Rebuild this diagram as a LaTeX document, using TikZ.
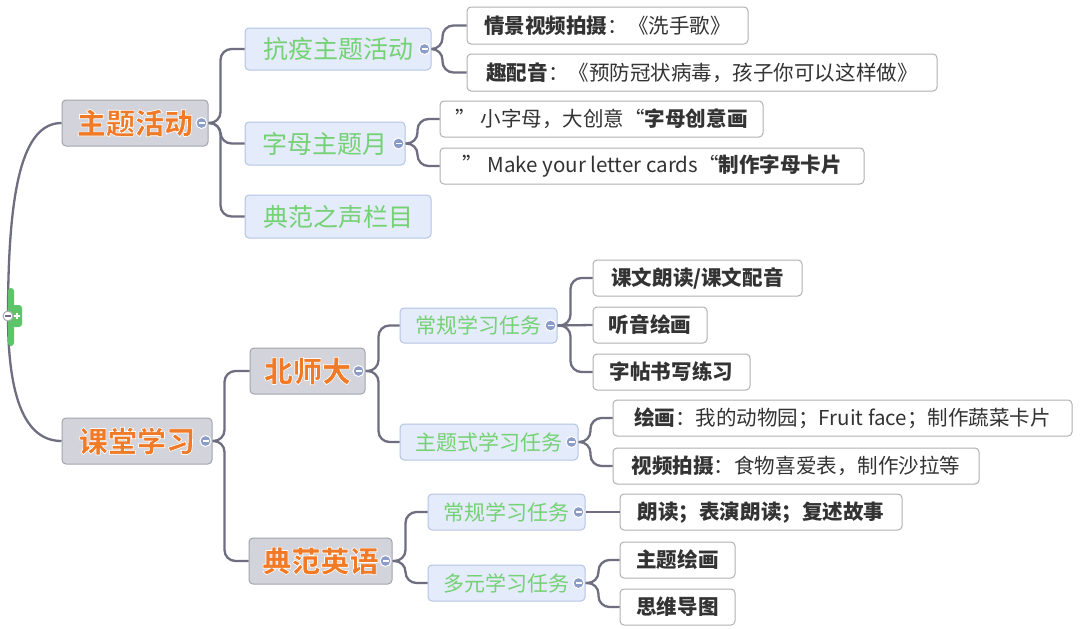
\documentclass[tikz,border=0pt]{standalone}
\usepackage{fontspec}
\setmainfont{Noto Sans CJK SC}
\newdimen\pxu \pxu=0.75pt
\definecolor{conncol}{HTML}{6E6E80}
\definecolor{lonefill}{HTML}{D3D3DB}
\definecolor{loneborder}{HTML}{A4A4AE}
\definecolor{ltwofill}{HTML}{E4EBFA}
\definecolor{ltwoborder}{HTML}{B5C4E4}
\definecolor{orangetxt}{HTML}{F07A26}
\definecolor{greentxt}{HTML}{74D174}
\definecolor{leafborder}{HTML}{B0B0B0}
\definecolor{leaftxt}{HTML}{333333}
\definecolor{btnblue}{HTML}{8C9CC8}
\definecolor{rootgreen}{HTML}{5EC46A}
% white outline round the glyphs, one copy of the text only
\newcommand{\halo}[1]{\special{pdf:literal direct 1 1 1 RG 0.5 w 2 Tr}#1\special{pdf:literal direct 0 Tr}}
\newcommand{\minusbtn}[1]{%
  \filldraw[fill=btnblue,draw=white,line width=1\pxu] ([xshift=-7\pxu]#1.east) circle (5.5\pxu);
  \draw[white,line width=1.5\pxu] ([xshift=-10\pxu]#1.east) -- ([xshift=-4\pxu]#1.east);}
\begin{document}
\begin{tikzpicture}[x=0.75pt,y=-0.75pt,
  lone/.style={draw=loneborder,fill=lonefill,line width=1\pxu,rounded corners=4\pxu,
    inner sep=0pt,minimum height=46\pxu,text=orangetxt,font=\fontsize{21.8}{24}\selectfont\bfseries},
  ltwo/.style={draw=ltwoborder,fill=ltwofill,line width=1\pxu,rounded corners=4\pxu,
    inner sep=0pt,minimum height=42\pxu,text=greentxt,font=\fontsize{18.75}{22}\selectfont},
  lthree/.style={draw=ltwoborder,fill=ltwofill,line width=1\pxu,rounded corners=4\pxu,
    inner sep=0pt,minimum height=36\pxu,text=greentxt,font=\fontsize{15.75}{18}\selectfont},
  leaf/.style={draw=leafborder,fill=white,line width=1\pxu,rounded corners=4\pxu,
    inner sep=0pt,minimum height=36\pxu,text=leaftxt,font=\fontsize{15.4}{18}\selectfont},
  conn/.style={draw=conncol,line width=2.3\pxu,rounded corners=11\pxu},
]
\useasboundingbox (0,0) rectangle (1080,628);
\fill[white] (0,0) rectangle (1080,628);

% root
\coordinate (root) at (8,316);
% level 1
\node[lone,minimum width=146\pxu] (zt) at (135,123) {\halo{主题活动}\hspace{8\pxu}};
\node[lone,minimum width=150\pxu] (kt) at (137,441) {\halo{课堂学习}\hspace{8\pxu}};
% level 2
\node[ltwo,minimum width=186\pxu] (ky) at (338,49) {抗疫主题活动\hspace{6\pxu}};
\node[ltwo,minimum width=160\pxu,minimum height=43\pxu] (zm) at (325,143.5) {字母主题月\hspace{6\pxu}};
\node[ltwo,minimum width=186\pxu,minimum height=43\pxu] (df) at (338,216.5) {典范之声栏目};
\node[lone,minimum width=115\pxu] (bs) at (307.5,371) {\halo{北师大}\hspace{8\pxu}};
\node[lone,minimum width=143\pxu] (dy) at (320.5,561) {\halo{典范英语}\hspace{8\pxu}};
% level 3
\node[lthree,minimum width=157\pxu,minimum height=35\pxu] (cga) at (478.5,325.5) {常规学习任务\hspace{6\pxu}};
\node[lthree,minimum width=178\pxu] (zts) at (489,442) {主题式学习任务\hspace{6\pxu}};
\node[lthree,minimum width=157\pxu] (cgb) at (506.5,512) {常规学习任务\hspace{6\pxu}};
\node[lthree,minimum width=157\pxu] (dyr) at (506.5,583) {多元学习任务\hspace{6\pxu}};
% leaves
\node[leaf,minimum width=281\pxu,minimum height=37\pxu] (aone) at (607.5,25.5) {\textbf{情景视频拍摄}：《洗手歌》};
\node[leaf,minimum width=470\pxu,minimum height=37\pxu] (atwo) at (702,72.5) {\textbf{趣配音}：《预防冠状病毒，孩子你可以这样做》};
\node[leaf,minimum width=323\pxu] (bone) at (601.5,119) {”\ 小字母，大创意“\textbf{字母创意画}};
\node[leaf,minimum width=424\pxu] (btwo) at (652,166) {”\ Make your letter cards“\textbf{制作字母卡片}};
\node[leaf,minimum width=209\pxu] (cone) at (697.5,278) {\textbf{课文朗读/课文配音}};
\node[leaf,minimum width=114\pxu] (ctwo) at (650,325) {\textbf{听音绘画}};
\node[leaf,minimum width=157\pxu] (cthree) at (671.5,372) {\textbf{字帖书写练习}};
\node[leaf,minimum width=459\pxu] (done) at (842.5,418) {\textbf{绘画}：我的动物园；Fruit face；制作蔬菜卡片};
\node[leaf,minimum width=366\pxu] (dtwo) at (796,466) {\textbf{视频拍摄}：食物喜爱表，制作沙拉等};
\node[leaf,minimum width=282\pxu] (eone) at (761,512) {\textbf{朗读；表演朗读；复述故事}};
\node[leaf,minimum width=115\pxu] (etwo) at (677.5,560) {\textbf{主题绘画}};
\node[leaf,minimum width=115\pxu] (ethree) at (677.5,607) {\textbf{思维导图}};

% root connectors
\draw[conncol,line width=2.3\pxu] (root) .. controls (8,190) and (22,123) .. (zt.west);
\draw[conncol,line width=2.3\pxu] (root) .. controls (8,395) and (24,441) .. (kt.west);
% root graphic
\fill[rootgreen,rounded corners=3\pxu] (8,288) rectangle (14,346);
\fill[rootgreen,rounded corners=3\pxu] (12,305) rectangle (22,327);
\draw[white,line width=1.3\pxu] (14,316) -- (20,316) (17,313) -- (17,319);
\filldraw[fill=white,draw=conncol!60,line width=1\pxu] (root) circle (5\pxu);
\draw[conncol,line width=1.2\pxu] (5,316) -- (11,316);

\draw[conn] (zt.east) -- ++(12,0) |- (ky.west);
\draw[conn] (zt.east) -- ++(12,0) |- (zm.west);
\draw[conn] (zt.east) -- ++(12,0) |- (df.west);
\draw[conn] (ky.east) -- ++(11,0) |- (aone.west);
\draw[conn] (ky.east) -- ++(11,0) |- (atwo.west);
\draw[conn] (zm.east) -- ++(12,0) |- (bone.west);
\draw[conn] (zm.east) -- ++(12,0) |- (btwo.west);
\draw[conn] (kt.east) -- ++(12,0) |- (bs.west);
\draw[conn] (kt.east) -- ++(12,0) |- (dy.west);
\draw[conn] (bs.east) -- ++(13,0) |- (cga.west);
\draw[conn] (bs.east) -- ++(13,0) |- (zts.west);
\draw[conn] (cga.east) -- ++(13,0) |- (cone.west);
\draw[conn] (cga.east) -- (ctwo.west);
\draw[conn] (cga.east) -- ++(13,0) |- (cthree.west);
\draw[conn] (zts.east) -- ++(12,0) |- (done.west);
\draw[conn] (zts.east) -- ++(12,0) |- (dtwo.west);
\draw[conn] (dy.east) -- ++(13,0) |- (cgb.west);
\draw[conn] (dy.east) -- ++(13,0) |- (dyr.west);
\draw[conn] (cgb.east) -- (eone.west);
\draw[conn] (dyr.east) -- ++(13,0) |- (etwo.west);
\draw[conn] (dyr.east) -- ++(13,0) |- (ethree.west);

% collapse buttons
\minusbtn{zt}\minusbtn{kt}\minusbtn{ky}\minusbtn{zm}\minusbtn{bs}\minusbtn{dy}
\minusbtn{cga}\minusbtn{zts}\minusbtn{cgb}\minusbtn{dyr}
\end{tikzpicture}
\end{document}
